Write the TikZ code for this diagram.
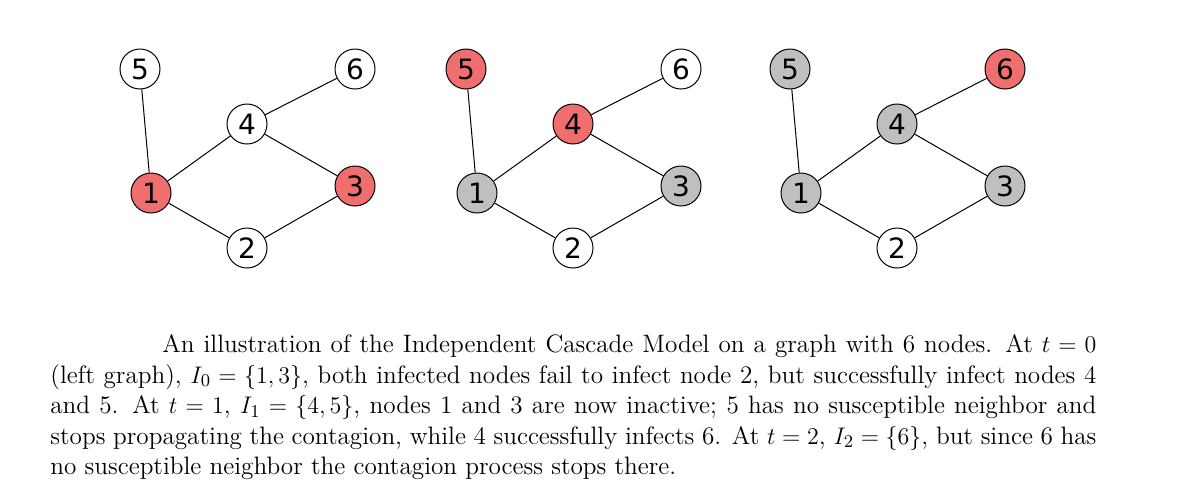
\documentclass[tikz,border=0pt]{standalone}
\usepackage{fontspec}
\newfontfamily\nodefont{DejaVu Sans}
\begin{document}
\begin{tikzpicture}[x=0.5pt,y=-0.5pt,
  vtx/.style={circle,draw=black,line width=0.5pt,minimum size=20pt,inner sep=0pt,font=\nodefont\fontsize{14}{14}\selectfont},
  rec/.style={vtx,fill=black!25},
  sus/.style={vtx,fill=white},
  edge/.style={line width=0.5pt}]
\useasboundingbox (0,0) rectangle (1178,500);
\definecolor{infc}{RGB}{240,110,110}
\tikzset{inf/.style={vtx,fill=infc}}
\foreach \o/\sa/\sb/\sc/\sd/\se/\sf/\g in {0/inf/sus/inf/sus/sus/sus/a,326/rec/sus/rec/inf/inf/sus/b,650/rec/sus/rec/rec/rec/inf/c}{
  \node[\sa] (\g1) at (151+\o,193) {1};
  \node[\sb] (\g2) at (247+\o,248) {2};
  \node[\sc] (\g3) at (355+\o,186) {3};
  \node[\sd] (\g4) at (247+\o,124) {4};
  \node[\se] (\g5) at (140+\o,69) {5};
  \node[\sf] (\g6) at (355+\o,69) {6};
  \draw[edge] (\g1)--(\g5) (\g1)--(\g4) (\g1)--(\g2) (\g2)--(\g3) (\g4)--(\g3) (\g4)--(\g6);
}
\node[anchor=north west,inner sep=0pt,text width=523pt,align=justify,font=\fontsize{12.6}{15.3}\selectfont] (cap) at (50,334) {\hspace*{56pt}An illustration of the Independent Cascade Model on a graph with 6 nodes. At $t=0$ (left graph), $I_0=\{1,3\}$, both infected nodes fail to infect node 2, but successfully infect nodes 4 and 5. At $t=1$, $I_1=\{4,5\}$, nodes 1 and 3 are now inactive; 5 has no susceptible neighbor and stops propagating the contagion, while 4 successfully infects 6. At $t=2$, $I_2=\{6\}$, but since 6 has no susceptible neighbor the contagion process stops there.\par};
\end{tikzpicture}
\end{document}
